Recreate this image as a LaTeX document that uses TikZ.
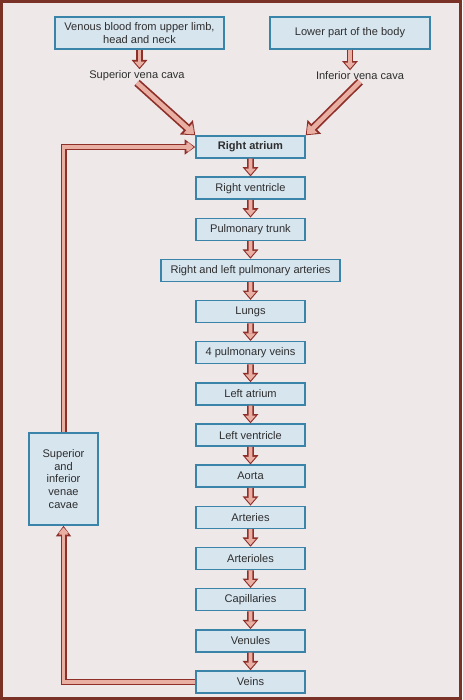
\documentclass[tikz,border=0pt]{standalone}
\usepackage{fontspec}
\setmainfont{Liberation Sans}
\usetikzlibrary{arrows.meta}

\definecolor{bgpaper}{HTML}{EEE8E8}
\definecolor{framebrown}{HTML}{7A3226}
\definecolor{boxfill}{HTML}{D7E5EF}
\definecolor{boxline}{HTML}{3A84AA}
\definecolor{arrowdark}{HTML}{8E2F2A}
\definecolor{arrowlight}{HTML}{E9AFA3}
\definecolor{txt}{HTML}{2E2E2E}

\tikzset{
  organ/.style={draw=boxline, fill=boxfill, line width=1.1pt, minimum width=81.75pt,
    minimum height=16.5pt, inner xsep=7pt, inner ysep=0pt, text=txt,
    font=\fontsize{8.3}{9.6}\selectfont},
  source/.style={organ, minimum height=24pt, align=center},
  vessel/.style={text=txt, inner sep=1pt, font=\fontsize{8.3}{9.6}\selectfont},
  flow/.style={line width=5pt, draw=arrowdark, -{Triangle[length=7pt,width=11.5pt]},
    postaction={draw=arrowlight, line width=2.8pt, -{Triangle[length=4.5pt,width=7.5pt]},
      shorten >=1.3pt}},
  bigflow/.style={flow, line width=6pt, -{Triangle[length=9pt,width=14pt]},
    postaction={draw=arrowlight, line width=3.4pt, -{Triangle[length=6pt,width=9.5pt]},
      shorten >=1.5pt}},
  returnflow/.style={flow, line width=4.5pt, -{Triangle[length=8pt,width=11pt]},
    postaction={draw=arrowlight, line width=1.8pt, -{Triangle[length=5pt,width=6.5pt]},
      shorten >=1.6pt}}
}

\begin{document}
\begin{tikzpicture}[scale=0.75, x=1pt, y=-1pt]
  \useasboundingbox (0,0) rectangle (462,700);
  \fill[bgpaper] (0,0) rectangle (462,700);
  \draw[framebrown, line width=2.2pt] (1.5,1.5) rectangle (460.5,698.5);

  % where the blood comes from
  \node[source, minimum width=125.25pt] (upper) at (139.5,33)
    {Venous blood from upper limb,\\head and neck};
  \node[source, minimum width=120pt] (lower) at (350,33) {Lower part of the body};
  \node[vessel] (svc) at (137,76) {Superior vena cava};
  \node[vessel] (ivc) at (360,76) {Inferior vena cava};

  % the chain through heart and body
  \foreach \name/\txt [count=\i from 0] in {ra/\textbf{Right atrium},
      rv/Right ventricle, pt/Pulmonary trunk, pa/Right and left pulmonary arteries,
      lungs/Lungs, pv/4 pulmonary veins, la/Left atrium, lv/Left ventricle,
      aorta/Aorta, art/Arteries, artl/Arterioles, cap/Capillaries,
      venules/Venules, veins/Veins}
    \node[organ] (\name) at (250.5,147+41.15*\i) {\txt};

  \node[organ, minimum width=51.75pt, minimum height=69pt, inner xsep=2pt,
    align=center] (cavae) at (63.5,479) {Superior\\and\\inferior\\venae\\cavae};

  \draw[flow] (upper.south) -- (upper.south |- svc.north);
  \draw[flow] (lower.south) -- (lower.south |- ivc.north);
  \draw[bigflow] (svc.south) -- (ra.north west);
  \draw[bigflow] (ivc.south) -- (ra.north east);

  \foreach \a/\b in {ra/rv, rv/pt, pt/pa, pa/lungs, lungs/pv, pv/la, la/lv,
      lv/aorta, aorta/art, art/artl, artl/cap, cap/venules, venules/veins}
    \draw[flow] (\a) -- (\b);

  \draw[returnflow] (veins.west) -| (cavae.south);
  \draw[returnflow] (cavae.north) |- (ra.west);
\end{tikzpicture}
\end{document}
